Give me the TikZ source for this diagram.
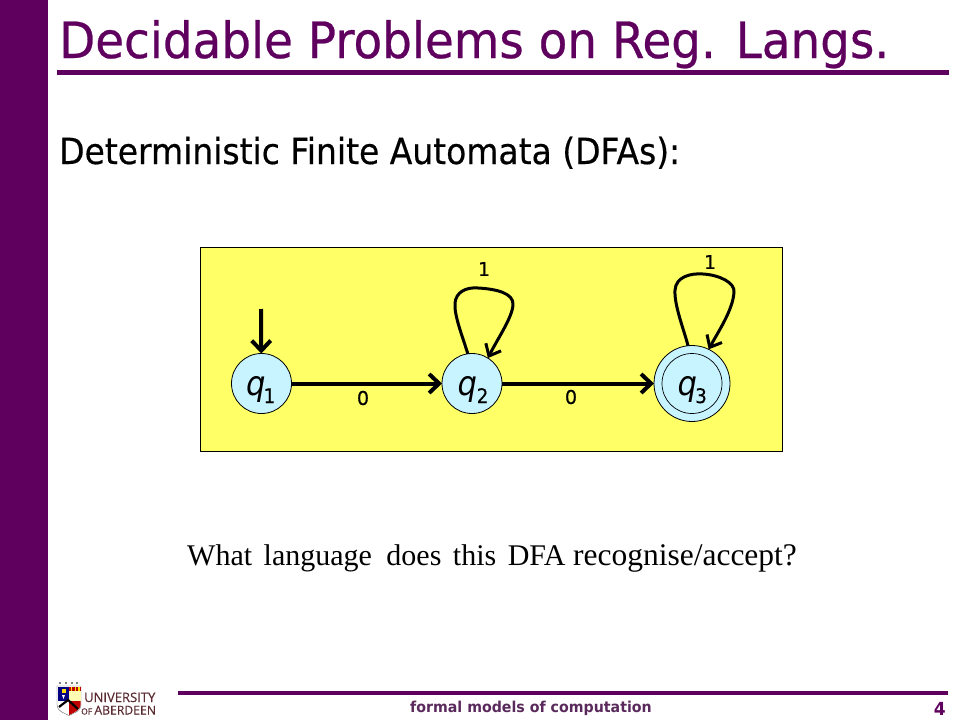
\documentclass[tikz,border=0pt]{standalone}
\usepackage{fontspec}
\setmainfont[FakeStretch=0.937,FakeBold=0.5]{DejaVu Sans}
\newfontfamily\subf[FakeStretch=0.916,FakeBold=0.4]{DejaVu Sans}
\newfontfamily\timesf{Liberation Serif}
\newfontfamily\labf[FakeBold=0.4]{DejaVu Sans}
\newfontfamily\logof[FakeBold=0.3]{Open Sans}
\newfontfamily\boldf[FakeStretch=0.946]{DejaVu Sans Bold}
\newfontfamily\qf[FakeStretch=0.9]{DejaVu Sans Oblique}
\usetikzlibrary{arrows.meta}
\definecolor{plum}{HTML}{5F005F}
\definecolor{yel}{HTML}{FFFF66}
\definecolor{cya}{HTML}{C8F4FF}
\definecolor{foot}{HTML}{5A2A5C}
\definecolor{logoc}{HTML}{5A2A30}
\tikzset{
  x=1pt,y=-1pt,
  statec/.style={circle,draw=black,line width=0.8pt,fill=cya,minimum size=#1,inner sep=0pt,outer sep=0pt},
  edgea/.style={line width=4pt,-{Straight Barb[length=10pt,width=19pt,line width=4pt]},line join=round},
  loopa/.style={line width=3pt,-{Straight Barb[length=10pt,width=17pt,line width=3pt]},line join=round},
  lab/.style={font=\labf\fontsize{19}{19}\selectfont,inner sep=0pt},
  qtxt/.style={anchor=base west,inner sep=0pt,font=\qf\fontsize{34}{34}\selectfont},
  subt/.style={anchor=base west,inner sep=0pt,font=\subf\fontsize{20}{20}\selectfont},
}
\begin{document}
\begin{tikzpicture}
\useasboundingbox (0,0) rectangle (960,720);
\fill[white] (0,0) rectangle (960,720);
\fill[plum] (0,0) rectangle (48,720);
\fill[plum] (57,70) rectangle (949,75);
\fill[plum] (178,690.5) rectangle (948,694.5);
\node[anchor=base west,inner sep=0pt,text=plum,font=\fontsize{50}{50}\selectfont] (title) at (59,58) {Decidable Problems on Reg. Langs.};
\node[anchor=base west,inner sep=0pt,font=\subf\fontsize{36}{36}\selectfont] (sub) at (59,164) {Deterministic Finite Automata (DFAs):};
\node[draw=black,line width=0.8pt,fill=yel,minimum width=581.5pt,minimum height=203.5pt,inner sep=0pt,outer sep=0pt,anchor=north west] (box) at (200.5,247.5) {};
\node[statec=60pt] (q1) at (261.5,383.5) {};
\node[statec=60pt] (q2) at (472,383.5) {};
\node[statec=76pt] (q3) at (692,383.5) {};
\node[circle,draw=black,line width=0.7pt,minimum size=60pt,inner sep=0pt] (q3i) at (692,383.5) {};
\node[qtxt] (t1) at (246,395) {q};
\node[subt] (s1) at (263.5,403) {1};
\node[qtxt] (t2) at (457.5,395) {q};
\node[subt] (s2) at (476.5,403) {2};
\node[qtxt] (t3) at (677.5,395) {q};
\node[subt] (s3) at (695,403) {3};
\coordinate (init) at (261,309);
\draw[edgea] (init) -- (q1);
\draw[edgea] (q1) -- (q2);
\draw[edgea] (q2) -- (q3);
\draw[loopa] (q2.98) .. controls (462,335) and (454,315) .. (455,303) .. controls (456,292) and (466,287) .. (478,288) .. controls (496,289) and (514,293) .. (513,305) .. controls (512,318) and (498,338) .. (q2.58);
\draw[loopa] (q3.96) .. controls (684,330) and (674,305) .. (675,290) .. controls (676,277) and (690,273) .. (703,274) .. controls (720,275) and (735,283) .. (734,292) .. controls (733,310) and (718,332) .. (q3.64);
\node[lab] (l1) at (363,398) {0};
\node[lab] (l2) at (571,397) {0};
\node[lab] (l3) at (484,269) {1};
\node[lab] (l4) at (710,262) {1};
\node[anchor=base west,inner sep=0pt,font=\timesf\fontsize{30}{30}\selectfont] (q) at (187,565) {\spaceskip=11.5pt What language\hspace{3pt} does this DFA\hspace{-4pt} {\fontsize{31.5}{31.5}\selectfont recognise/accept?}};
\node[anchor=base west,inner sep=0pt,text=foot,font=\boldf\fontsize{15}{15}\selectfont] (ft) at (410,712) {formal models of computation};
\node[anchor=base east,inner sep=0pt,text=plum,font=\boldf\fontsize{18}{18}\selectfont] (pg) at (946,715) {4};
% logo
\fill[white,draw=black!60,line width=0.4pt] (57,686) -- (81,686) -- (81,705) .. controls (81,711) and (74,713) .. (69,715.5) .. controls (64,713) and (57,711) .. (57,705) -- cycle;
\fill[blue!50!black] (58,686.5) rectangle (69,701);
\fill[yellow!80!orange] (61.5,689) rectangle (65.5,693);
\fill[white] (62,695) -- (65,695) -- (63.5,699) -- cycle;
\fill[red!75!black] (69,686.5) rectangle (80.5,691);
\foreach \xx in {70.5,74.5,78} \fill[yellow!85!orange] (\xx,687) rectangle +(1.8,3.5);
\fill[yellow!30!white] (69,691) rectangle (80.5,701);
\fill[red!75!black] (69,701) -- (80.5,701) -- (80.5,705) .. controls (80.5,710) and (74,712.5) .. (69,715) -- cycle;
\draw[black,line width=2.2pt] (59,707) -- (68,700) -- (78,709);
\foreach \xx in {59,65,71,76} \fill[gray] (\xx,681.5) rectangle +(2,2);
\node[anchor=base west,inner sep=0pt,text=logoc,font=\logof\fontsize{13}{13}\selectfont] (lg1) at (84,702) {UNIVERSITY};
\node[anchor=base west,inner sep=0pt,text=logoc,font=\logof\fontsize{12}{12}\selectfont] (lg2) at (81,714.5) {\fontsize{8.5}{8.5}\selectfont OF \fontsize{12.2}{12.2}\selectfont ABERDEEN};
\end{tikzpicture}
\end{document}
